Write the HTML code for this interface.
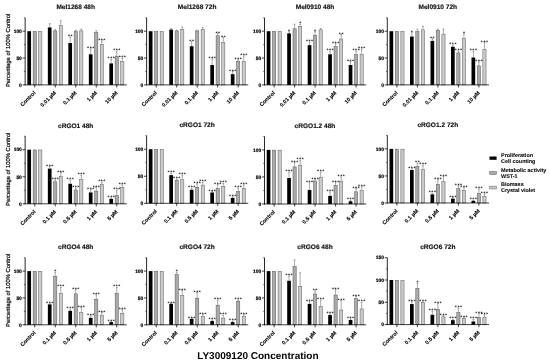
<!DOCTYPE html>
<html><head><meta charset="utf-8"><title>LY3009120 Concentration</title>
<style>
html,body{margin:0;padding:0;background:#fff;}
body{width:550px;height:363px;overflow:hidden;}
svg{display:block;font-family:"Liberation Sans",Arial,sans-serif;}
.t{font-size:6.55px;font-weight:bold;text-anchor:middle;fill:#111;stroke:#111;stroke-width:0.15px;}
.s{font-size:5.2px;font-weight:bold;text-anchor:middle;fill:#111;letter-spacing:0.55px;}
.y{font-size:4.9px;font-weight:bold;text-anchor:end;fill:#000;stroke:#000;stroke-width:0.2px;}
.x{font-size:5.4px;font-weight:bold;text-anchor:end;fill:#000;stroke:#000;stroke-width:0.12px;}
.yl{font-size:5.85px;text-anchor:middle;fill:#000;stroke:#000;stroke-width:0.2px;}
.l{font-size:5.45px;font-weight:bold;fill:#111;stroke:#111;stroke-width:0.1px;}
.xl{font-size:10px;font-weight:bold;text-anchor:middle;fill:#000;}
.a{stroke:#111;stroke-width:0.9;fill:none;}
.ax{stroke:#000;stroke-width:0.75;fill:none;}
.m{stroke:#111;stroke-width:0.6;fill:none;}
text{text-rendering:geometricPrecision;}
.e{stroke:#555;stroke-width:0.5;fill:none;}
</style></head><body>
<svg width="550" height="363" viewBox="0 0 550 363">
<rect width="550" height="363" fill="#fff"/>
<g>
<text x="75.7" y="8.9" class="t">Mel1268 48h</text>
<rect x="27.35" y="31.20" width="3.7" height="53.70" fill="#000"/>
<rect x="33.15" y="31.45" width="3.2" height="53.45" fill="#aaaaaa" stroke="#555" stroke-width="0.5"/>
<rect x="38.70" y="31.45" width="3.2" height="53.45" fill="#cacaca" stroke="#5c5c5c" stroke-width="0.5"/>
<path d="M49.70 27.44V23.68M48.80 23.68H50.60" class="e"/>
<rect x="47.85" y="27.44" width="3.7" height="57.46" fill="#000"/>
<path d="M55.25 30.66V29.59M54.35 29.59H56.15" class="e"/>
<rect x="53.65" y="30.91" width="3.2" height="53.99" fill="#aaaaaa" stroke="#555" stroke-width="0.5"/>
<path d="M60.80 25.29V20.46M59.90 20.46H61.70" class="e"/>
<rect x="59.20" y="25.54" width="3.2" height="59.36" fill="#cacaca" stroke="#5c5c5c" stroke-width="0.5"/>
<path d="M70.20 43.01V37.11M69.30 37.11H71.10" class="e"/>
<rect x="68.35" y="43.01" width="3.7" height="41.89" fill="#000"/>
<text x="70.48" y="38.31" class="s">**</text>
<path d="M75.75 31.20V30.13M74.85 30.13H76.65" class="e"/>
<rect x="74.15" y="31.45" width="3.2" height="53.45" fill="#aaaaaa" stroke="#555" stroke-width="0.5"/>
<path d="M81.30 30.66V29.05M80.40 29.05H82.20" class="e"/>
<rect x="79.70" y="30.91" width="3.2" height="53.99" fill="#cacaca" stroke="#5c5c5c" stroke-width="0.5"/>
<path d="M90.70 54.29V48.92M89.80 48.92H91.60" class="e"/>
<rect x="88.85" y="54.29" width="3.7" height="30.61" fill="#000"/>
<text x="90.98" y="50.12" class="s">***</text>
<path d="M96.25 32.27V30.66M95.35 30.66H97.15" class="e"/>
<rect x="94.65" y="32.52" width="3.2" height="52.38" fill="#aaaaaa" stroke="#555" stroke-width="0.5"/>
<path d="M101.80 44.09V40.87M100.90 40.87H102.70" class="e"/>
<rect x="100.20" y="44.34" width="3.2" height="40.56" fill="#cacaca" stroke="#5c5c5c" stroke-width="0.5"/>
<text x="102.08" y="42.07" class="s">***</text>
<path d="M111.20 63.42V59.12M110.30 59.12H112.10" class="e"/>
<rect x="109.35" y="63.42" width="3.7" height="21.48" fill="#000"/>
<text x="111.48" y="60.32" class="s">***</text>
<path d="M116.75 55.90V51.07M115.85 51.07H117.65" class="e"/>
<rect x="115.15" y="56.15" width="3.2" height="28.75" fill="#aaaaaa" stroke="#555" stroke-width="0.5"/>
<text x="117.03" y="52.27" class="s">***</text>
<path d="M122.30 61.27V58.05M121.40 58.05H123.20" class="e"/>
<rect x="120.70" y="61.52" width="3.2" height="23.38" fill="#cacaca" stroke="#5c5c5c" stroke-width="0.5"/>
<text x="122.58" y="59.25" class="s">***</text>
<path d="M25.15 17.78V85.25" class="a"/>
<path d="M24.70 84.90H126.85" class="ax"/>
<path d="M23.85 71.48H25.15" class="m"/>
<path d="M23.85 44.62H25.15" class="m"/>
<path d="M22.55 84.90H25.15" class="ax"/>
<text x="21.85" y="86.65" class="y">0</text>
<path d="M22.55 58.05H25.15" class="ax"/>
<text x="21.85" y="59.80" class="y">50</text>
<path d="M22.55 31.20H25.15" class="ax"/>
<text x="21.85" y="32.95" class="y">100</text>
<path d="M23.85 17.78H25.15" class="m"/>
<path d="M34.75 84.90V87.50" class="ax"/>
<text transform="translate(35.95 93.30) rotate(-45)" class="x">Control</text>
<path d="M55.25 84.90V87.50" class="ax"/>
<text transform="translate(56.45 93.30) rotate(-45)" class="x">0.01 µM</text>
<path d="M75.75 84.90V87.50" class="ax"/>
<text transform="translate(76.95 93.30) rotate(-45)" class="x">0.1 µM</text>
<path d="M96.25 84.90V87.50" class="ax"/>
<text transform="translate(97.45 93.30) rotate(-45)" class="x">1 µM</text>
<path d="M116.75 84.90V87.50" class="ax"/>
<text transform="translate(117.95 93.30) rotate(-45)" class="x">10 µM</text>
<text transform="translate(10.35 50.40) rotate(-90)" class="yl">Percentage of 100% Control</text>
</g>
<g>
<text x="197.1" y="8.9" class="t">Mel1268 72h</text>
<rect x="148.80" y="31.20" width="3.7" height="53.70" fill="#000"/>
<rect x="154.60" y="31.45" width="3.2" height="53.45" fill="#aaaaaa" stroke="#555" stroke-width="0.5"/>
<rect x="160.15" y="31.45" width="3.2" height="53.45" fill="#cacaca" stroke="#5c5c5c" stroke-width="0.5"/>
<path d="M171.15 29.59V28.52M170.25 28.52H172.05" class="e"/>
<rect x="169.30" y="29.59" width="3.7" height="55.31" fill="#000"/>
<path d="M176.70 30.66V30.13M175.80 30.13H177.60" class="e"/>
<rect x="175.10" y="30.91" width="3.2" height="53.99" fill="#aaaaaa" stroke="#555" stroke-width="0.5"/>
<path d="M182.25 29.05V26.90M181.35 26.90H183.15" class="e"/>
<rect x="180.65" y="29.30" width="3.2" height="55.60" fill="#cacaca" stroke="#5c5c5c" stroke-width="0.5"/>
<path d="M191.65 46.24V41.40M190.75 41.40H192.55" class="e"/>
<rect x="189.80" y="46.24" width="3.7" height="38.66" fill="#000"/>
<text x="191.93" y="42.60" class="s">**</text>
<path d="M197.20 30.66V30.13M196.30 30.13H198.10" class="e"/>
<rect x="195.60" y="30.91" width="3.2" height="53.99" fill="#aaaaaa" stroke="#555" stroke-width="0.5"/>
<path d="M202.75 29.05V27.44M201.85 27.44H203.65" class="e"/>
<rect x="201.15" y="29.30" width="3.2" height="55.60" fill="#cacaca" stroke="#5c5c5c" stroke-width="0.5"/>
<path d="M212.15 65.03V58.59M211.25 58.59H213.05" class="e"/>
<rect x="210.30" y="65.03" width="3.7" height="19.87" fill="#000"/>
<text x="212.43" y="59.79" class="s">***</text>
<path d="M217.70 35.50V33.35M216.80 33.35H218.60" class="e"/>
<rect x="216.10" y="35.75" width="3.2" height="49.15" fill="#aaaaaa" stroke="#555" stroke-width="0.5"/>
<text x="217.98" y="34.55" class="s">**</text>
<path d="M223.25 42.48V37.64M222.35 37.64H224.15" class="e"/>
<rect x="221.65" y="42.73" width="3.2" height="42.17" fill="#cacaca" stroke="#5c5c5c" stroke-width="0.5"/>
<text x="223.53" y="38.84" class="s">**</text>
<path d="M232.65 74.16V71.48M231.75 71.48H233.55" class="e"/>
<rect x="230.80" y="74.16" width="3.7" height="10.74" fill="#000"/>
<text x="232.93" y="72.68" class="s">***</text>
<path d="M238.20 61.27V59.66M237.30 59.66H239.10" class="e"/>
<rect x="236.60" y="61.52" width="3.2" height="23.38" fill="#aaaaaa" stroke="#555" stroke-width="0.5"/>
<text x="238.48" y="60.86" class="s">***</text>
<path d="M243.75 61.27V55.90M242.85 55.90H244.65" class="e"/>
<rect x="242.15" y="61.52" width="3.2" height="23.38" fill="#cacaca" stroke="#5c5c5c" stroke-width="0.5"/>
<text x="244.03" y="57.10" class="s">***</text>
<path d="M146.60 17.78V85.25" class="a"/>
<path d="M146.15 84.90H248.30" class="ax"/>
<path d="M145.30 71.48H146.60" class="m"/>
<path d="M145.30 44.62H146.60" class="m"/>
<path d="M144.00 84.90H146.60" class="ax"/>
<text x="143.30" y="86.65" class="y">0</text>
<path d="M144.00 58.05H146.60" class="ax"/>
<text x="143.30" y="59.80" class="y">50</text>
<path d="M144.00 31.20H146.60" class="ax"/>
<text x="143.30" y="32.95" class="y">100</text>
<path d="M145.30 17.78H146.60" class="m"/>
<path d="M156.20 84.90V87.50" class="ax"/>
<text transform="translate(157.40 93.30) rotate(-45)" class="x">Control</text>
<path d="M176.70 84.90V87.50" class="ax"/>
<text transform="translate(177.90 93.30) rotate(-45)" class="x">0.01 µM</text>
<path d="M197.20 84.90V87.50" class="ax"/>
<text transform="translate(198.40 93.30) rotate(-45)" class="x">0.1 µM</text>
<path d="M217.70 84.90V87.50" class="ax"/>
<text transform="translate(218.90 93.30) rotate(-45)" class="x">1 µM</text>
<path d="M238.20 84.90V87.50" class="ax"/>
<text transform="translate(239.40 93.30) rotate(-45)" class="x">10 µM</text>
</g>
<g>
<text x="315.0" y="8.9" class="t">Mel0910 48h</text>
<rect x="266.70" y="31.20" width="3.7" height="53.70" fill="#000"/>
<rect x="272.50" y="31.45" width="3.2" height="53.45" fill="#aaaaaa" stroke="#555" stroke-width="0.5"/>
<rect x="278.05" y="31.45" width="3.2" height="53.45" fill="#cacaca" stroke="#5c5c5c" stroke-width="0.5"/>
<path d="M289.05 33.35V31.74M288.15 31.74H289.95" class="e"/>
<rect x="287.20" y="33.35" width="3.7" height="51.55" fill="#000"/>
<text x="289.33" y="32.94" class="s">*</text>
<path d="M294.60 28.52V24.22M293.70 24.22H295.50" class="e"/>
<rect x="293.00" y="28.77" width="3.2" height="56.14" fill="#aaaaaa" stroke="#555" stroke-width="0.5"/>
<path d="M300.15 26.37V24.22M299.25 24.22H301.05" class="e"/>
<rect x="298.55" y="26.62" width="3.2" height="58.28" fill="#cacaca" stroke="#5c5c5c" stroke-width="0.5"/>
<text x="300.43" y="25.42" class="s">*</text>
<path d="M309.55 45.16V41.94M308.65 41.94H310.45" class="e"/>
<rect x="307.70" y="45.16" width="3.7" height="39.74" fill="#000"/>
<text x="309.83" y="43.14" class="s">***</text>
<path d="M315.10 34.96V31.74M314.20 31.74H316.00" class="e"/>
<rect x="313.50" y="35.21" width="3.2" height="49.69" fill="#aaaaaa" stroke="#555" stroke-width="0.5"/>
<text x="315.38" y="32.94" class="s">*</text>
<path d="M320.65 29.59V28.52M319.75 28.52H321.55" class="e"/>
<rect x="319.05" y="29.84" width="3.2" height="55.06" fill="#cacaca" stroke="#5c5c5c" stroke-width="0.5"/>
<path d="M330.05 54.29V51.07M329.15 51.07H330.95" class="e"/>
<rect x="328.20" y="54.29" width="3.7" height="30.61" fill="#000"/>
<text x="330.33" y="52.27" class="s">***</text>
<path d="M335.60 46.24V43.55M334.70 43.55H336.50" class="e"/>
<rect x="334.00" y="46.49" width="3.2" height="38.41" fill="#aaaaaa" stroke="#555" stroke-width="0.5"/>
<text x="335.88" y="44.75" class="s">***</text>
<path d="M341.15 38.72V34.42M340.25 34.42H342.05" class="e"/>
<rect x="339.55" y="38.97" width="3.2" height="45.93" fill="#cacaca" stroke="#5c5c5c" stroke-width="0.5"/>
<text x="341.43" y="35.62" class="s">**</text>
<path d="M350.55 65.03V61.81M349.65 61.81H351.45" class="e"/>
<rect x="348.70" y="65.03" width="3.7" height="19.87" fill="#000"/>
<text x="350.83" y="63.01" class="s">***</text>
<path d="M356.10 54.29V51.07M355.20 51.07H357.00" class="e"/>
<rect x="354.50" y="54.54" width="3.2" height="30.36" fill="#aaaaaa" stroke="#555" stroke-width="0.5"/>
<text x="356.38" y="52.27" class="s">***</text>
<path d="M361.65 54.29V48.92M360.75 48.92H362.55" class="e"/>
<rect x="360.05" y="54.54" width="3.2" height="30.36" fill="#cacaca" stroke="#5c5c5c" stroke-width="0.5"/>
<text x="361.93" y="50.12" class="s">***</text>
<path d="M264.50 17.78V85.25" class="a"/>
<path d="M264.05 84.90H366.20" class="ax"/>
<path d="M263.20 71.48H264.50" class="m"/>
<path d="M263.20 44.62H264.50" class="m"/>
<path d="M261.90 84.90H264.50" class="ax"/>
<text x="261.20" y="86.65" class="y">0</text>
<path d="M261.90 58.05H264.50" class="ax"/>
<text x="261.20" y="59.80" class="y">50</text>
<path d="M261.90 31.20H264.50" class="ax"/>
<text x="261.20" y="32.95" class="y">100</text>
<path d="M263.20 17.78H264.50" class="m"/>
<path d="M274.10 84.90V87.50" class="ax"/>
<text transform="translate(275.30 93.30) rotate(-45)" class="x">Control</text>
<path d="M294.60 84.90V87.50" class="ax"/>
<text transform="translate(295.80 93.30) rotate(-45)" class="x">0.01 µM</text>
<path d="M315.10 84.90V87.50" class="ax"/>
<text transform="translate(316.30 93.30) rotate(-45)" class="x">0.1 µM</text>
<path d="M335.60 84.90V87.50" class="ax"/>
<text transform="translate(336.80 93.30) rotate(-45)" class="x">1 µM</text>
<path d="M356.10 84.90V87.50" class="ax"/>
<text transform="translate(357.30 93.30) rotate(-45)" class="x">10 µM</text>
</g>
<g>
<text x="437.8" y="8.9" class="t">Mel0910 72h</text>
<rect x="389.50" y="31.20" width="3.7" height="53.70" fill="#000"/>
<rect x="395.30" y="31.45" width="3.2" height="53.45" fill="#aaaaaa" stroke="#555" stroke-width="0.5"/>
<rect x="400.85" y="31.45" width="3.2" height="53.45" fill="#cacaca" stroke="#5c5c5c" stroke-width="0.5"/>
<path d="M411.85 36.57V32.81M410.95 32.81H412.75" class="e"/>
<rect x="410.00" y="36.57" width="3.7" height="48.33" fill="#000"/>
<text x="412.13" y="34.01" class="s">*</text>
<path d="M417.40 31.20V29.05M416.50 29.05H418.30" class="e"/>
<rect x="415.80" y="31.45" width="3.2" height="53.45" fill="#aaaaaa" stroke="#555" stroke-width="0.5"/>
<path d="M422.95 29.59V26.37M422.05 26.37H423.85" class="e"/>
<rect x="421.35" y="29.84" width="3.2" height="55.06" fill="#cacaca" stroke="#5c5c5c" stroke-width="0.5"/>
<path d="M432.35 40.87V38.72M431.45 38.72H433.25" class="e"/>
<rect x="430.50" y="40.87" width="3.7" height="44.03" fill="#000"/>
<text x="432.63" y="39.92" class="s">**</text>
<path d="M437.90 30.13V29.05M437.00 29.05H438.80" class="e"/>
<rect x="436.30" y="30.38" width="3.2" height="54.52" fill="#aaaaaa" stroke="#555" stroke-width="0.5"/>
<path d="M443.45 33.89V29.05M442.55 29.05H444.35" class="e"/>
<rect x="441.85" y="34.14" width="3.2" height="50.77" fill="#cacaca" stroke="#5c5c5c" stroke-width="0.5"/>
<path d="M452.85 46.77V45.16M451.95 45.16H453.75" class="e"/>
<rect x="451.00" y="46.77" width="3.7" height="38.13" fill="#000"/>
<text x="453.13" y="46.36" class="s">***</text>
<path d="M458.40 52.68V51.07M457.50 51.07H459.30" class="e"/>
<rect x="456.80" y="52.93" width="3.2" height="31.97" fill="#aaaaaa" stroke="#555" stroke-width="0.5"/>
<text x="458.68" y="52.27" class="s">***</text>
<path d="M463.95 38.18V33.89M463.05 33.89H464.85" class="e"/>
<rect x="462.35" y="38.43" width="3.2" height="46.47" fill="#cacaca" stroke="#5c5c5c" stroke-width="0.5"/>
<text x="464.23" y="35.09" class="s">*</text>
<path d="M473.35 57.51V51.07M472.45 51.07H474.25" class="e"/>
<rect x="471.50" y="57.51" width="3.7" height="27.39" fill="#000"/>
<text x="473.63" y="52.27" class="s">***</text>
<path d="M478.90 65.57V61.81M478.00 61.81H479.80" class="e"/>
<rect x="477.30" y="65.82" width="3.2" height="19.08" fill="#aaaaaa" stroke="#555" stroke-width="0.5"/>
<text x="479.18" y="63.01" class="s">***</text>
<path d="M484.45 49.46V42.48M483.55 42.48H485.35" class="e"/>
<rect x="482.85" y="49.71" width="3.2" height="35.19" fill="#cacaca" stroke="#5c5c5c" stroke-width="0.5"/>
<text x="484.73" y="43.68" class="s">***</text>
<path d="M387.30 17.78V85.25" class="a"/>
<path d="M386.85 84.90H489.00" class="ax"/>
<path d="M386.00 71.48H387.30" class="m"/>
<path d="M386.00 44.62H387.30" class="m"/>
<path d="M384.70 84.90H387.30" class="ax"/>
<text x="384.00" y="86.65" class="y">0</text>
<path d="M384.70 58.05H387.30" class="ax"/>
<text x="384.00" y="59.80" class="y">50</text>
<path d="M384.70 31.20H387.30" class="ax"/>
<text x="384.00" y="32.95" class="y">100</text>
<path d="M386.00 17.78H387.30" class="m"/>
<path d="M396.90 84.90V87.50" class="ax"/>
<text transform="translate(398.10 93.30) rotate(-45)" class="x">Control</text>
<path d="M417.40 84.90V87.50" class="ax"/>
<text transform="translate(418.60 93.30) rotate(-45)" class="x">0.01 µM</text>
<path d="M437.90 84.90V87.50" class="ax"/>
<text transform="translate(439.10 93.30) rotate(-45)" class="x">0.1 µM</text>
<path d="M458.40 84.90V87.50" class="ax"/>
<text transform="translate(459.60 93.30) rotate(-45)" class="x">1 µM</text>
<path d="M478.90 84.90V87.50" class="ax"/>
<text transform="translate(480.10 93.30) rotate(-45)" class="x">10 µM</text>
</g>
<g>
<text x="75.7" y="127.8" class="t">cRGO1 48h</text>
<rect x="27.35" y="149.70" width="3.7" height="54.10" fill="#000"/>
<rect x="33.15" y="149.95" width="3.2" height="53.85" fill="#aaaaaa" stroke="#555" stroke-width="0.5"/>
<rect x="38.70" y="149.95" width="3.2" height="53.85" fill="#cacaca" stroke="#5c5c5c" stroke-width="0.5"/>
<path d="M49.70 168.64V166.47M48.80 166.47H50.60" class="e"/>
<rect x="47.85" y="168.64" width="3.7" height="35.16" fill="#000"/>
<text x="49.98" y="167.67" class="s">***</text>
<path d="M55.25 181.62V180.00M54.35 180.00H56.15" class="e"/>
<rect x="53.65" y="181.87" width="3.2" height="21.93" fill="#aaaaaa" stroke="#555" stroke-width="0.5"/>
<text x="55.53" y="181.20" class="s">***</text>
<path d="M60.80 176.21V172.42M59.90 172.42H61.70" class="e"/>
<rect x="59.20" y="176.46" width="3.2" height="27.34" fill="#cacaca" stroke="#5c5c5c" stroke-width="0.5"/>
<text x="61.08" y="173.62" class="s">***</text>
<path d="M70.20 183.78V180.00M69.30 180.00H71.10" class="e"/>
<rect x="68.35" y="183.78" width="3.7" height="20.02" fill="#000"/>
<text x="70.48" y="181.20" class="s">***</text>
<path d="M75.75 189.73V188.11M74.85 188.11H76.65" class="e"/>
<rect x="74.15" y="189.98" width="3.2" height="13.82" fill="#aaaaaa" stroke="#555" stroke-width="0.5"/>
<text x="76.03" y="189.31" class="s">***</text>
<path d="M81.30 179.46V175.13M80.40 175.13H82.20" class="e"/>
<rect x="79.70" y="179.71" width="3.2" height="24.10" fill="#cacaca" stroke="#5c5c5c" stroke-width="0.5"/>
<text x="81.58" y="176.33" class="s">***</text>
<path d="M90.70 192.44V189.73M89.80 189.73H91.60" class="e"/>
<rect x="88.85" y="192.44" width="3.7" height="11.36" fill="#000"/>
<text x="90.98" y="190.93" class="s">***</text>
<path d="M96.25 190.82V187.57M95.35 187.57H97.15" class="e"/>
<rect x="94.65" y="191.07" width="3.2" height="12.73" fill="#aaaaaa" stroke="#555" stroke-width="0.5"/>
<text x="96.53" y="188.77" class="s">***</text>
<path d="M101.80 184.32V182.16M100.90 182.16H102.70" class="e"/>
<rect x="100.20" y="184.57" width="3.2" height="19.23" fill="#cacaca" stroke="#5c5c5c" stroke-width="0.5"/>
<text x="102.08" y="183.36" class="s">***</text>
<path d="M111.20 198.93V197.85M110.30 197.85H112.10" class="e"/>
<rect x="109.35" y="198.93" width="3.7" height="4.87" fill="#000"/>
<text x="111.48" y="199.05" class="s">***</text>
<path d="M116.75 195.14V190.28M115.85 190.28H117.65" class="e"/>
<rect x="115.15" y="195.39" width="3.2" height="8.41" fill="#aaaaaa" stroke="#555" stroke-width="0.5"/>
<text x="117.03" y="191.47" class="s">***</text>
<path d="M122.30 187.03V184.87M121.40 184.87H123.20" class="e"/>
<rect x="120.70" y="187.28" width="3.2" height="16.52" fill="#cacaca" stroke="#5c5c5c" stroke-width="0.5"/>
<text x="122.58" y="186.06" class="s">***</text>
<path d="M25.15 136.18V204.15" class="a"/>
<path d="M24.70 203.80H126.85" class="ax"/>
<path d="M23.85 190.28H25.15" class="m"/>
<path d="M23.85 163.23H25.15" class="m"/>
<path d="M22.55 203.80H25.15" class="ax"/>
<text x="21.85" y="205.55" class="y">0</text>
<path d="M22.55 176.75H25.15" class="ax"/>
<text x="21.85" y="178.50" class="y">50</text>
<path d="M22.55 149.70H25.15" class="ax"/>
<text x="21.85" y="151.45" class="y">100</text>
<path d="M23.85 136.18H25.15" class="m"/>
<path d="M34.75 203.80V206.40" class="ax"/>
<text transform="translate(35.95 212.20) rotate(-45)" class="x">Control</text>
<path d="M55.25 203.80V206.40" class="ax"/>
<text transform="translate(56.45 212.20) rotate(-45)" class="x">0.1 µM</text>
<path d="M75.75 203.80V206.40" class="ax"/>
<text transform="translate(76.95 212.20) rotate(-45)" class="x">0.5 µM</text>
<path d="M96.25 203.80V206.40" class="ax"/>
<text transform="translate(97.45 212.20) rotate(-45)" class="x">1 µM</text>
<path d="M116.75 203.80V206.40" class="ax"/>
<text transform="translate(117.95 212.20) rotate(-45)" class="x">5 µM</text>
<text transform="translate(10.35 169.30) rotate(-90)" class="yl">Percentage of 100% Control</text>
</g>
<g>
<text x="197.1" y="127.3" class="t">cRGO1 72h</text>
<rect x="148.80" y="149.20" width="3.7" height="54.10" fill="#000"/>
<rect x="154.60" y="149.45" width="3.2" height="53.85" fill="#aaaaaa" stroke="#555" stroke-width="0.5"/>
<rect x="160.15" y="149.45" width="3.2" height="53.85" fill="#cacaca" stroke="#5c5c5c" stroke-width="0.5"/>
<path d="M171.15 175.17V173.00M170.25 173.00H172.05" class="e"/>
<rect x="169.30" y="175.17" width="3.7" height="28.13" fill="#000"/>
<text x="171.43" y="174.20" class="s">***</text>
<path d="M176.70 180.04V178.96M175.80 178.96H177.60" class="e"/>
<rect x="175.10" y="180.29" width="3.2" height="23.01" fill="#aaaaaa" stroke="#555" stroke-width="0.5"/>
<text x="176.98" y="180.16" class="s">***</text>
<path d="M182.25 179.50V175.17M181.35 175.17H183.15" class="e"/>
<rect x="180.65" y="179.75" width="3.2" height="23.55" fill="#cacaca" stroke="#5c5c5c" stroke-width="0.5"/>
<text x="182.53" y="176.37" class="s">***</text>
<path d="M191.65 189.78V188.15M190.75 188.15H192.55" class="e"/>
<rect x="189.80" y="189.78" width="3.7" height="13.53" fill="#000"/>
<text x="191.93" y="189.35" class="s">***</text>
<path d="M197.20 187.07V183.82M196.30 183.82H198.10" class="e"/>
<rect x="195.60" y="187.32" width="3.2" height="15.98" fill="#aaaaaa" stroke="#555" stroke-width="0.5"/>
<text x="197.48" y="185.02" class="s">***</text>
<path d="M202.75 184.91V182.20M201.85 182.20H203.65" class="e"/>
<rect x="201.15" y="185.16" width="3.2" height="18.14" fill="#cacaca" stroke="#5c5c5c" stroke-width="0.5"/>
<text x="203.03" y="183.40" class="s">***</text>
<path d="M212.15 192.48V191.40M211.25 191.40H213.05" class="e"/>
<rect x="210.30" y="192.48" width="3.7" height="10.82" fill="#000"/>
<text x="212.43" y="192.60" class="s">***</text>
<path d="M217.70 188.15V184.37M216.80 184.37H218.60" class="e"/>
<rect x="216.10" y="188.40" width="3.2" height="14.90" fill="#aaaaaa" stroke="#555" stroke-width="0.5"/>
<text x="217.98" y="185.56" class="s">***</text>
<path d="M223.25 185.99V183.28M222.35 183.28H224.15" class="e"/>
<rect x="221.65" y="186.24" width="3.2" height="17.06" fill="#cacaca" stroke="#5c5c5c" stroke-width="0.5"/>
<text x="223.53" y="184.48" class="s">***</text>
<path d="M232.65 197.89V196.81M231.75 196.81H233.55" class="e"/>
<rect x="230.80" y="197.89" width="3.7" height="5.41" fill="#000"/>
<text x="232.93" y="198.01" class="s">***</text>
<path d="M238.20 191.40V188.15M237.30 188.15H239.10" class="e"/>
<rect x="236.60" y="191.65" width="3.2" height="11.65" fill="#aaaaaa" stroke="#555" stroke-width="0.5"/>
<text x="238.48" y="189.35" class="s">***</text>
<path d="M243.75 188.15V184.91M242.85 184.91H244.65" class="e"/>
<rect x="242.15" y="188.40" width="3.2" height="14.90" fill="#cacaca" stroke="#5c5c5c" stroke-width="0.5"/>
<text x="244.03" y="186.11" class="s">***</text>
<path d="M146.60 135.68V203.65" class="a"/>
<path d="M146.15 203.30H248.30" class="ax"/>
<path d="M145.30 189.78H146.60" class="m"/>
<path d="M145.30 162.73H146.60" class="m"/>
<path d="M144.00 203.30H146.60" class="ax"/>
<text x="143.30" y="205.05" class="y">0</text>
<path d="M144.00 176.25H146.60" class="ax"/>
<text x="143.30" y="178.00" class="y">50</text>
<path d="M144.00 149.20H146.60" class="ax"/>
<text x="143.30" y="150.95" class="y">100</text>
<path d="M145.30 135.68H146.60" class="m"/>
<path d="M156.20 203.30V205.90" class="ax"/>
<text transform="translate(157.40 211.70) rotate(-45)" class="x">Control</text>
<path d="M176.70 203.30V205.90" class="ax"/>
<text transform="translate(177.90 211.70) rotate(-45)" class="x">0.1 µM</text>
<path d="M197.20 203.30V205.90" class="ax"/>
<text transform="translate(198.40 211.70) rotate(-45)" class="x">0.5 µM</text>
<path d="M217.70 203.30V205.90" class="ax"/>
<text transform="translate(218.90 211.70) rotate(-45)" class="x">1 µM</text>
<path d="M238.20 203.30V205.90" class="ax"/>
<text transform="translate(239.40 211.70) rotate(-45)" class="x">5 µM</text>
</g>
<g>
<text x="315.0" y="128.0" class="t">cRGO1.2 48h</text>
<rect x="266.70" y="149.90" width="3.7" height="54.10" fill="#000"/>
<rect x="272.50" y="150.15" width="3.2" height="53.85" fill="#aaaaaa" stroke="#555" stroke-width="0.5"/>
<rect x="278.05" y="150.15" width="3.2" height="53.85" fill="#cacaca" stroke="#5c5c5c" stroke-width="0.5"/>
<path d="M289.05 178.03V172.08M288.15 172.08H289.95" class="e"/>
<rect x="287.20" y="178.03" width="3.7" height="25.97" fill="#000"/>
<text x="289.33" y="173.28" class="s">***</text>
<path d="M294.60 166.67V162.34M293.70 162.34H295.50" class="e"/>
<rect x="293.00" y="166.92" width="3.2" height="37.08" fill="#aaaaaa" stroke="#555" stroke-width="0.5"/>
<text x="294.88" y="163.54" class="s">***</text>
<path d="M300.15 165.05V160.18M299.25 160.18H301.05" class="e"/>
<rect x="298.55" y="165.30" width="3.2" height="38.70" fill="#cacaca" stroke="#5c5c5c" stroke-width="0.5"/>
<text x="300.43" y="161.38" class="s">***</text>
<path d="M309.55 189.93V182.90M308.65 182.90H310.45" class="e"/>
<rect x="307.70" y="189.93" width="3.7" height="14.07" fill="#000"/>
<text x="309.83" y="184.10" class="s">***</text>
<path d="M315.10 180.74V179.66M314.20 179.66H316.00" class="e"/>
<rect x="313.50" y="180.99" width="3.2" height="23.01" fill="#aaaaaa" stroke="#555" stroke-width="0.5"/>
<text x="315.38" y="180.85" class="s">***</text>
<path d="M320.65 176.95V172.08M319.75 172.08H321.55" class="e"/>
<rect x="319.05" y="177.20" width="3.2" height="26.80" fill="#cacaca" stroke="#5c5c5c" stroke-width="0.5"/>
<text x="320.93" y="173.28" class="s">***</text>
<path d="M330.05 195.88V192.10M329.15 192.10H330.95" class="e"/>
<rect x="328.20" y="195.88" width="3.7" height="8.12" fill="#000"/>
<text x="330.33" y="193.30" class="s">***</text>
<path d="M335.60 185.06V182.36M334.70 182.36H336.50" class="e"/>
<rect x="334.00" y="185.31" width="3.2" height="18.69" fill="#aaaaaa" stroke="#555" stroke-width="0.5"/>
<text x="335.88" y="183.56" class="s">***</text>
<path d="M341.15 181.28V176.95M340.25 176.95H342.05" class="e"/>
<rect x="339.55" y="181.53" width="3.2" height="22.47" fill="#cacaca" stroke="#5c5c5c" stroke-width="0.5"/>
<text x="341.43" y="178.15" class="s">***</text>
<path d="M350.55 201.29V200.21M349.65 200.21H351.45" class="e"/>
<rect x="348.70" y="201.29" width="3.7" height="2.71" fill="#000"/>
<text x="350.83" y="201.41" class="s">***</text>
<path d="M356.10 191.56V188.31M355.20 188.31H357.00" class="e"/>
<rect x="354.50" y="191.81" width="3.2" height="12.19" fill="#aaaaaa" stroke="#555" stroke-width="0.5"/>
<text x="356.38" y="189.51" class="s">***</text>
<path d="M361.65 190.47V186.69M360.75 186.69H362.55" class="e"/>
<rect x="360.05" y="190.72" width="3.2" height="13.28" fill="#cacaca" stroke="#5c5c5c" stroke-width="0.5"/>
<text x="361.93" y="187.89" class="s">***</text>
<path d="M264.50 136.38V204.35" class="a"/>
<path d="M264.05 204.00H366.20" class="ax"/>
<path d="M263.20 190.47H264.50" class="m"/>
<path d="M263.20 163.43H264.50" class="m"/>
<path d="M261.90 204.00H264.50" class="ax"/>
<text x="261.20" y="205.75" class="y">0</text>
<path d="M261.90 176.95H264.50" class="ax"/>
<text x="261.20" y="178.70" class="y">50</text>
<path d="M261.90 149.90H264.50" class="ax"/>
<text x="261.20" y="151.65" class="y">100</text>
<path d="M263.20 136.38H264.50" class="m"/>
<path d="M274.10 204.00V206.60" class="ax"/>
<text transform="translate(275.30 212.40) rotate(-45)" class="x">Control</text>
<path d="M294.60 204.00V206.60" class="ax"/>
<text transform="translate(295.80 212.40) rotate(-45)" class="x">0.1 µM</text>
<path d="M315.10 204.00V206.60" class="ax"/>
<text transform="translate(316.30 212.40) rotate(-45)" class="x">0.5 µM</text>
<path d="M335.60 204.00V206.60" class="ax"/>
<text transform="translate(336.80 212.40) rotate(-45)" class="x">1 µM</text>
<path d="M356.10 204.00V206.60" class="ax"/>
<text transform="translate(357.30 212.40) rotate(-45)" class="x">5 µM</text>
</g>
<g>
<text x="437.8" y="127.0" class="t">cRGO1.2 72h</text>
<rect x="389.50" y="148.90" width="3.7" height="54.10" fill="#000"/>
<rect x="395.30" y="149.15" width="3.2" height="53.85" fill="#aaaaaa" stroke="#555" stroke-width="0.5"/>
<rect x="400.85" y="149.15" width="3.2" height="53.85" fill="#cacaca" stroke="#5c5c5c" stroke-width="0.5"/>
<path d="M411.85 170.00V168.38M410.95 168.38H412.75" class="e"/>
<rect x="410.00" y="170.00" width="3.7" height="33.00" fill="#000"/>
<text x="412.13" y="169.58" class="s">***</text>
<path d="M417.40 166.21V162.97M416.50 162.97H418.30" class="e"/>
<rect x="415.80" y="166.46" width="3.2" height="36.54" fill="#aaaaaa" stroke="#555" stroke-width="0.5"/>
<text x="417.68" y="164.17" class="s">**</text>
<path d="M422.95 169.46V165.13M422.05 165.13H423.85" class="e"/>
<rect x="421.35" y="169.71" width="3.2" height="33.29" fill="#cacaca" stroke="#5c5c5c" stroke-width="0.5"/>
<text x="423.23" y="166.33" class="s">***</text>
<path d="M432.35 194.34V193.26M431.45 193.26H433.25" class="e"/>
<rect x="430.50" y="194.34" width="3.7" height="8.66" fill="#000"/>
<text x="432.63" y="194.46" class="s">***</text>
<path d="M437.90 184.06V179.74M437.00 179.74H438.80" class="e"/>
<rect x="436.30" y="184.31" width="3.2" height="18.69" fill="#aaaaaa" stroke="#555" stroke-width="0.5"/>
<text x="438.18" y="180.94" class="s">***</text>
<path d="M443.45 181.36V176.49M442.55 176.49H444.35" class="e"/>
<rect x="441.85" y="181.61" width="3.2" height="21.39" fill="#cacaca" stroke="#5c5c5c" stroke-width="0.5"/>
<text x="443.73" y="177.69" class="s">***</text>
<path d="M452.85 198.67V197.59M451.95 197.59H453.75" class="e"/>
<rect x="451.00" y="198.67" width="3.7" height="4.33" fill="#000"/>
<text x="453.13" y="198.79" class="s">***</text>
<path d="M458.40 188.39V185.69M457.50 185.69H459.30" class="e"/>
<rect x="456.80" y="188.64" width="3.2" height="14.36" fill="#aaaaaa" stroke="#555" stroke-width="0.5"/>
<text x="458.68" y="186.89" class="s">***</text>
<path d="M463.95 190.02V187.31M463.05 187.31H464.85" class="e"/>
<rect x="462.35" y="190.27" width="3.2" height="12.73" fill="#cacaca" stroke="#5c5c5c" stroke-width="0.5"/>
<text x="464.23" y="188.51" class="s">***</text>
<path d="M473.35 200.84V200.29M472.45 200.29H474.25" class="e"/>
<rect x="471.50" y="200.84" width="3.7" height="2.16" fill="#000"/>
<text x="473.63" y="201.49" class="s">***</text>
<path d="M478.90 193.26V188.93M478.00 188.93H479.80" class="e"/>
<rect x="477.30" y="193.51" width="3.2" height="9.49" fill="#aaaaaa" stroke="#555" stroke-width="0.5"/>
<text x="479.18" y="190.13" class="s">***</text>
<path d="M484.45 195.97V193.80M483.55 193.80H485.35" class="e"/>
<rect x="482.85" y="196.22" width="3.2" height="6.78" fill="#cacaca" stroke="#5c5c5c" stroke-width="0.5"/>
<text x="484.73" y="195.00" class="s">***</text>
<path d="M387.30 135.38V203.35" class="a"/>
<path d="M386.85 203.00H489.00" class="ax"/>
<path d="M386.00 189.47H387.30" class="m"/>
<path d="M386.00 162.43H387.30" class="m"/>
<path d="M384.70 203.00H387.30" class="ax"/>
<text x="384.00" y="204.75" class="y">0</text>
<path d="M384.70 175.95H387.30" class="ax"/>
<text x="384.00" y="177.70" class="y">50</text>
<path d="M384.70 148.90H387.30" class="ax"/>
<text x="384.00" y="150.65" class="y">100</text>
<path d="M386.00 135.38H387.30" class="m"/>
<path d="M396.90 203.00V205.60" class="ax"/>
<text transform="translate(398.10 211.40) rotate(-45)" class="x">Control</text>
<path d="M417.40 203.00V205.60" class="ax"/>
<text transform="translate(418.60 211.40) rotate(-45)" class="x">0.1 µM</text>
<path d="M437.90 203.00V205.60" class="ax"/>
<text transform="translate(439.10 211.40) rotate(-45)" class="x">0.5 µM</text>
<path d="M458.40 203.00V205.60" class="ax"/>
<text transform="translate(459.60 211.40) rotate(-45)" class="x">1 µM</text>
<path d="M478.90 203.00V205.60" class="ax"/>
<text transform="translate(480.10 211.40) rotate(-45)" class="x">5 µM</text>
</g>
<g>
<text x="75.7" y="248.8" class="t">cRGO4 48h</text>
<rect x="27.35" y="271.10" width="3.7" height="53.70" fill="#000"/>
<rect x="33.15" y="271.35" width="3.2" height="53.45" fill="#aaaaaa" stroke="#555" stroke-width="0.5"/>
<rect x="38.70" y="271.35" width="3.2" height="53.45" fill="#cacaca" stroke="#5c5c5c" stroke-width="0.5"/>
<path d="M49.70 304.39V303.86M48.80 303.86H50.60" class="e"/>
<rect x="47.85" y="304.39" width="3.7" height="20.41" fill="#000"/>
<text x="49.98" y="305.06" class="s">***</text>
<path d="M55.25 275.93V272.17M54.35 272.17H56.15" class="e"/>
<rect x="53.65" y="276.18" width="3.2" height="48.62" fill="#aaaaaa" stroke="#555" stroke-width="0.5"/>
<text x="55.53" y="273.37" class="s">*</text>
<path d="M60.80 293.12V287.21M59.90 287.21H61.70" class="e"/>
<rect x="59.20" y="293.37" width="3.2" height="31.43" fill="#cacaca" stroke="#5c5c5c" stroke-width="0.5"/>
<text x="61.08" y="288.41" class="s">***</text>
<path d="M70.20 310.84V309.23M69.30 309.23H71.10" class="e"/>
<rect x="68.35" y="310.84" width="3.7" height="13.96" fill="#000"/>
<text x="70.48" y="310.43" class="s">***</text>
<path d="M75.75 293.65V289.36M74.85 289.36H76.65" class="e"/>
<rect x="74.15" y="293.90" width="3.2" height="30.90" fill="#aaaaaa" stroke="#555" stroke-width="0.5"/>
<text x="76.03" y="290.56" class="s">***</text>
<path d="M81.30 312.45V307.62M80.40 307.62H82.20" class="e"/>
<rect x="79.70" y="312.70" width="3.2" height="12.10" fill="#cacaca" stroke="#5c5c5c" stroke-width="0.5"/>
<text x="81.58" y="308.82" class="s">***</text>
<path d="M90.70 317.82V315.67M89.80 315.67H91.60" class="e"/>
<rect x="88.85" y="317.82" width="3.7" height="6.98" fill="#000"/>
<text x="90.98" y="316.87" class="s">***</text>
<path d="M96.25 299.02V294.73M95.35 294.73H97.15" class="e"/>
<rect x="94.65" y="299.27" width="3.2" height="25.53" fill="#aaaaaa" stroke="#555" stroke-width="0.5"/>
<text x="96.53" y="295.93" class="s">***</text>
<path d="M101.80 315.13V312.45M100.90 312.45H102.70" class="e"/>
<rect x="100.20" y="315.38" width="3.2" height="9.42" fill="#cacaca" stroke="#5c5c5c" stroke-width="0.5"/>
<text x="102.08" y="313.65" class="s">***</text>
<path d="M111.20 322.12V321.58M110.30 321.58H112.10" class="e"/>
<rect x="109.35" y="322.12" width="3.7" height="2.69" fill="#000"/>
<text x="111.48" y="322.78" class="s">***</text>
<path d="M116.75 293.12V287.21M115.85 287.21H117.65" class="e"/>
<rect x="115.15" y="293.37" width="3.2" height="31.43" fill="#aaaaaa" stroke="#555" stroke-width="0.5"/>
<text x="117.03" y="288.41" class="s">***</text>
<path d="M122.30 312.99V309.76M121.40 309.76H123.20" class="e"/>
<rect x="120.70" y="313.24" width="3.2" height="11.56" fill="#cacaca" stroke="#5c5c5c" stroke-width="0.5"/>
<text x="122.58" y="310.96" class="s">***</text>
<path d="M25.15 257.68V325.15" class="a"/>
<path d="M24.70 324.80H126.85" class="ax"/>
<path d="M23.85 311.38H25.15" class="m"/>
<path d="M23.85 284.52H25.15" class="m"/>
<path d="M22.55 324.80H25.15" class="ax"/>
<text x="21.85" y="326.55" class="y">0</text>
<path d="M22.55 297.95H25.15" class="ax"/>
<text x="21.85" y="299.70" class="y">50</text>
<path d="M22.55 271.10H25.15" class="ax"/>
<text x="21.85" y="272.85" class="y">100</text>
<path d="M23.85 257.68H25.15" class="m"/>
<path d="M34.75 324.80V327.40" class="ax"/>
<text transform="translate(35.95 333.20) rotate(-45)" class="x">Control</text>
<path d="M55.25 324.80V327.40" class="ax"/>
<text transform="translate(56.45 333.20) rotate(-45)" class="x">0.1 µM</text>
<path d="M75.75 324.80V327.40" class="ax"/>
<text transform="translate(76.95 333.20) rotate(-45)" class="x">0.5 µM</text>
<path d="M96.25 324.80V327.40" class="ax"/>
<text transform="translate(97.45 333.20) rotate(-45)" class="x">1 µM</text>
<path d="M116.75 324.80V327.40" class="ax"/>
<text transform="translate(117.95 333.20) rotate(-45)" class="x">5 µM</text>
<text transform="translate(10.35 290.30) rotate(-90)" class="yl">Percentage of 100% Control</text>
</g>
<g>
<text x="197.1" y="248.8" class="t">cRGO4 72h</text>
<rect x="148.80" y="271.10" width="3.7" height="53.70" fill="#000"/>
<rect x="154.60" y="271.35" width="3.2" height="53.45" fill="#aaaaaa" stroke="#555" stroke-width="0.5"/>
<rect x="160.15" y="271.35" width="3.2" height="53.45" fill="#cacaca" stroke="#5c5c5c" stroke-width="0.5"/>
<path d="M171.15 303.86V303.32M170.25 303.32H172.05" class="e"/>
<rect x="169.30" y="303.86" width="3.7" height="20.94" fill="#000"/>
<text x="171.43" y="304.52" class="s">***</text>
<path d="M176.70 274.32V272.17M175.80 272.17H177.60" class="e"/>
<rect x="175.10" y="274.57" width="3.2" height="50.23" fill="#aaaaaa" stroke="#555" stroke-width="0.5"/>
<text x="176.98" y="273.37" class="s">*</text>
<path d="M182.25 295.26V290.43M181.35 290.43H183.15" class="e"/>
<rect x="180.65" y="295.51" width="3.2" height="29.29" fill="#cacaca" stroke="#5c5c5c" stroke-width="0.5"/>
<text x="182.53" y="291.63" class="s">***</text>
<path d="M191.65 318.89V318.36M190.75 318.36H192.55" class="e"/>
<rect x="189.80" y="318.89" width="3.7" height="5.91" fill="#000"/>
<text x="191.93" y="319.56" class="s">***</text>
<path d="M197.20 297.95V292.58M196.30 292.58H198.10" class="e"/>
<rect x="195.60" y="298.20" width="3.2" height="26.60" fill="#aaaaaa" stroke="#555" stroke-width="0.5"/>
<text x="197.48" y="293.78" class="s">***</text>
<path d="M202.75 316.21V314.60M201.85 314.60H203.65" class="e"/>
<rect x="201.15" y="316.46" width="3.2" height="8.34" fill="#cacaca" stroke="#5c5c5c" stroke-width="0.5"/>
<text x="203.03" y="315.80" class="s">***</text>
<path d="M212.15 321.04V319.97M211.25 319.97H213.05" class="e"/>
<rect x="210.30" y="321.04" width="3.7" height="3.76" fill="#000"/>
<text x="212.43" y="321.17" class="s">***</text>
<path d="M217.70 304.93V300.10M216.80 300.10H218.60" class="e"/>
<rect x="216.10" y="305.18" width="3.2" height="19.62" fill="#aaaaaa" stroke="#555" stroke-width="0.5"/>
<text x="217.98" y="301.30" class="s">***</text>
<path d="M223.25 317.82V315.13M222.35 315.13H224.15" class="e"/>
<rect x="221.65" y="318.07" width="3.2" height="6.73" fill="#cacaca" stroke="#5c5c5c" stroke-width="0.5"/>
<text x="223.53" y="316.33" class="s">***</text>
<path d="M232.65 322.12V321.04M231.75 321.04H233.55" class="e"/>
<rect x="230.80" y="322.12" width="3.7" height="2.69" fill="#000"/>
<text x="232.93" y="322.24" class="s">***</text>
<path d="M238.20 301.17V300.10M237.30 300.10H239.10" class="e"/>
<rect x="236.60" y="301.42" width="3.2" height="23.38" fill="#aaaaaa" stroke="#555" stroke-width="0.5"/>
<text x="238.48" y="301.30" class="s">***</text>
<path d="M243.75 316.21V314.60M242.85 314.60H244.65" class="e"/>
<rect x="242.15" y="316.46" width="3.2" height="8.34" fill="#cacaca" stroke="#5c5c5c" stroke-width="0.5"/>
<text x="244.03" y="315.80" class="s">***</text>
<path d="M146.60 257.68V325.15" class="a"/>
<path d="M146.15 324.80H248.30" class="ax"/>
<path d="M145.30 311.38H146.60" class="m"/>
<path d="M145.30 284.52H146.60" class="m"/>
<path d="M144.00 324.80H146.60" class="ax"/>
<text x="143.30" y="326.55" class="y">0</text>
<path d="M144.00 297.95H146.60" class="ax"/>
<text x="143.30" y="299.70" class="y">50</text>
<path d="M144.00 271.10H146.60" class="ax"/>
<text x="143.30" y="272.85" class="y">100</text>
<path d="M145.30 257.68H146.60" class="m"/>
<path d="M156.20 324.80V327.40" class="ax"/>
<text transform="translate(157.40 333.20) rotate(-45)" class="x">Control</text>
<path d="M176.70 324.80V327.40" class="ax"/>
<text transform="translate(177.90 333.20) rotate(-45)" class="x">0.1 µM</text>
<path d="M197.20 324.80V327.40" class="ax"/>
<text transform="translate(198.40 333.20) rotate(-45)" class="x">0.5 µM</text>
<path d="M217.70 324.80V327.40" class="ax"/>
<text transform="translate(218.90 333.20) rotate(-45)" class="x">1 µM</text>
<path d="M238.20 324.80V327.40" class="ax"/>
<text transform="translate(239.40 333.20) rotate(-45)" class="x">5 µM</text>
</g>
<g>
<text x="315.0" y="248.8" class="t">cRGO6 48h</text>
<rect x="266.70" y="271.10" width="3.7" height="53.70" fill="#000"/>
<rect x="272.50" y="271.35" width="3.2" height="53.45" fill="#aaaaaa" stroke="#555" stroke-width="0.5"/>
<rect x="278.05" y="271.35" width="3.2" height="53.45" fill="#cacaca" stroke="#5c5c5c" stroke-width="0.5"/>
<path d="M289.05 280.77V275.93M288.15 275.93H289.95" class="e"/>
<rect x="287.20" y="280.77" width="3.7" height="44.03" fill="#000"/>
<text x="289.33" y="277.13" class="s">***</text>
<path d="M294.60 266.27V259.82M293.70 259.82H295.50" class="e"/>
<rect x="293.00" y="266.52" width="3.2" height="58.28" fill="#aaaaaa" stroke="#555" stroke-width="0.5"/>
<path d="M300.15 286.14V272.71M299.25 272.71H301.05" class="e"/>
<rect x="298.55" y="286.39" width="3.2" height="38.41" fill="#cacaca" stroke="#5c5c5c" stroke-width="0.5"/>
<path d="M309.55 303.86V301.71M308.65 301.71H310.45" class="e"/>
<rect x="307.70" y="303.86" width="3.7" height="20.94" fill="#000"/>
<text x="309.83" y="302.91" class="s">***</text>
<path d="M315.10 293.65V290.97M314.20 290.97H316.00" class="e"/>
<rect x="313.50" y="293.90" width="3.2" height="30.90" fill="#aaaaaa" stroke="#555" stroke-width="0.5"/>
<text x="315.38" y="292.17" class="s">**</text>
<path d="M320.65 306.00V300.10M319.75 300.10H321.55" class="e"/>
<rect x="319.05" y="306.25" width="3.2" height="18.55" fill="#cacaca" stroke="#5c5c5c" stroke-width="0.5"/>
<text x="320.93" y="301.30" class="s">***</text>
<path d="M330.05 315.13V314.06M329.15 314.06H330.95" class="e"/>
<rect x="328.20" y="315.13" width="3.7" height="9.67" fill="#000"/>
<text x="330.33" y="315.26" class="s">***</text>
<path d="M335.60 294.73V289.36M334.70 289.36H336.50" class="e"/>
<rect x="334.00" y="294.98" width="3.2" height="29.82" fill="#aaaaaa" stroke="#555" stroke-width="0.5"/>
<text x="335.88" y="290.56" class="s">***</text>
<path d="M341.15 309.76V300.63M340.25 300.63H342.05" class="e"/>
<rect x="339.55" y="310.01" width="3.2" height="14.79" fill="#cacaca" stroke="#5c5c5c" stroke-width="0.5"/>
<text x="341.43" y="301.83" class="s">***</text>
<path d="M350.55 319.97V318.89M349.65 318.89H351.45" class="e"/>
<rect x="348.70" y="319.97" width="3.7" height="4.83" fill="#000"/>
<text x="350.83" y="320.09" class="s">***</text>
<path d="M356.10 298.49V296.34M355.20 296.34H357.00" class="e"/>
<rect x="354.50" y="298.74" width="3.2" height="26.06" fill="#aaaaaa" stroke="#555" stroke-width="0.5"/>
<text x="356.38" y="297.54" class="s">***</text>
<path d="M361.65 308.69V302.25M360.75 302.25H362.55" class="e"/>
<rect x="360.05" y="308.94" width="3.2" height="15.86" fill="#cacaca" stroke="#5c5c5c" stroke-width="0.5"/>
<text x="361.93" y="303.45" class="s">***</text>
<path d="M264.50 257.68V325.15" class="a"/>
<path d="M264.05 324.80H366.20" class="ax"/>
<path d="M263.20 311.38H264.50" class="m"/>
<path d="M263.20 284.52H264.50" class="m"/>
<path d="M261.90 324.80H264.50" class="ax"/>
<text x="261.20" y="326.55" class="y">0</text>
<path d="M261.90 297.95H264.50" class="ax"/>
<text x="261.20" y="299.70" class="y">50</text>
<path d="M261.90 271.10H264.50" class="ax"/>
<text x="261.20" y="272.85" class="y">100</text>
<path d="M263.20 257.68H264.50" class="m"/>
<path d="M274.10 324.80V327.40" class="ax"/>
<text transform="translate(275.30 333.20) rotate(-45)" class="x">Control</text>
<path d="M294.60 324.80V327.40" class="ax"/>
<text transform="translate(295.80 333.20) rotate(-45)" class="x">0.1 µM</text>
<path d="M315.10 324.80V327.40" class="ax"/>
<text transform="translate(316.30 333.20) rotate(-45)" class="x">0.5 µM</text>
<path d="M335.60 324.80V327.40" class="ax"/>
<text transform="translate(336.80 333.20) rotate(-45)" class="x">1 µM</text>
<path d="M356.10 324.80V327.40" class="ax"/>
<text transform="translate(357.30 333.20) rotate(-45)" class="x">5 µM</text>
</g>
<g>
<text x="437.8" y="248.6" class="t">cRGO6 72h</text>
<rect x="389.50" y="280.00" width="3.7" height="44.60" fill="#000"/>
<rect x="395.30" y="280.25" width="3.2" height="44.35" fill="#aaaaaa" stroke="#555" stroke-width="0.5"/>
<rect x="400.85" y="280.25" width="3.2" height="44.35" fill="#cacaca" stroke="#5c5c5c" stroke-width="0.5"/>
<path d="M411.85 304.08V301.41M410.95 301.41H412.75" class="e"/>
<rect x="410.00" y="304.08" width="3.7" height="20.52" fill="#000"/>
<text x="412.13" y="302.61" class="s">***</text>
<path d="M417.40 288.03V283.12M416.50 283.12H418.30" class="e"/>
<rect x="415.80" y="288.28" width="3.2" height="36.32" fill="#aaaaaa" stroke="#555" stroke-width="0.5"/>
<text x="417.68" y="284.32" class="s">*</text>
<path d="M422.95 302.30V301.85M422.05 301.85H423.85" class="e"/>
<rect x="421.35" y="302.55" width="3.2" height="22.05" fill="#cacaca" stroke="#5c5c5c" stroke-width="0.5"/>
<text x="423.23" y="303.05" class="s">***</text>
<path d="M432.35 314.79V311.22M431.45 311.22H433.25" class="e"/>
<rect x="430.50" y="314.79" width="3.7" height="9.81" fill="#000"/>
<text x="432.63" y="312.42" class="s">***</text>
<path d="M437.90 308.99V303.64M437.00 303.64H438.80" class="e"/>
<rect x="436.30" y="309.24" width="3.2" height="15.36" fill="#aaaaaa" stroke="#555" stroke-width="0.5"/>
<text x="438.18" y="304.84" class="s">***</text>
<path d="M443.45 316.57V315.68M442.55 315.68H444.35" class="e"/>
<rect x="441.85" y="316.82" width="3.2" height="7.78" fill="#cacaca" stroke="#5c5c5c" stroke-width="0.5"/>
<text x="443.73" y="316.88" class="s">***</text>
<path d="M452.85 320.14V319.25M451.95 319.25H453.75" class="e"/>
<rect x="451.00" y="320.14" width="3.7" height="4.46" fill="#000"/>
<text x="453.13" y="320.45" class="s">***</text>
<path d="M458.40 312.11V308.10M457.50 308.10H459.30" class="e"/>
<rect x="456.80" y="312.36" width="3.2" height="12.24" fill="#aaaaaa" stroke="#555" stroke-width="0.5"/>
<text x="458.68" y="309.30" class="s">***</text>
<path d="M463.95 318.36V317.46M463.05 317.46H464.85" class="e"/>
<rect x="462.35" y="318.61" width="3.2" height="5.99" fill="#cacaca" stroke="#5c5c5c" stroke-width="0.5"/>
<text x="464.23" y="318.66" class="s">***</text>
<path d="M473.35 321.48V319.25M472.45 319.25H474.25" class="e"/>
<rect x="471.50" y="321.48" width="3.7" height="3.12" fill="#000"/>
<text x="473.63" y="320.45" class="s">***</text>
<path d="M478.90 317.02V313.45M478.00 313.45H479.80" class="e"/>
<rect x="477.30" y="317.27" width="3.2" height="7.33" fill="#aaaaaa" stroke="#555" stroke-width="0.5"/>
<text x="479.18" y="314.65" class="s">***</text>
<path d="M484.45 317.02V314.79M483.55 314.79H485.35" class="e"/>
<rect x="482.85" y="317.27" width="3.2" height="7.33" fill="#cacaca" stroke="#5c5c5c" stroke-width="0.5"/>
<text x="484.73" y="315.99" class="s">***</text>
<path d="M387.30 257.70V324.95" class="a"/>
<path d="M386.85 324.60H489.00" class="ax"/>
<path d="M386.00 313.45H387.30" class="m"/>
<path d="M386.00 291.15H387.30" class="m"/>
<path d="M386.00 268.85H387.30" class="m"/>
<path d="M384.70 324.60H387.30" class="ax"/>
<text x="384.00" y="326.35" class="y">0</text>
<path d="M384.70 302.30H387.30" class="ax"/>
<text x="384.00" y="304.05" class="y">50</text>
<path d="M384.70 280.00H387.30" class="ax"/>
<text x="384.00" y="281.75" class="y">100</text>
<path d="M384.70 257.70H387.30" class="ax"/>
<text x="384.00" y="259.45" class="y">150</text>
<path d="M396.90 324.60V327.20" class="ax"/>
<text transform="translate(398.10 333.00) rotate(-45)" class="x">Control</text>
<path d="M417.40 324.60V327.20" class="ax"/>
<text transform="translate(418.60 333.00) rotate(-45)" class="x">0.1 µM</text>
<path d="M437.90 324.60V327.20" class="ax"/>
<text transform="translate(439.10 333.00) rotate(-45)" class="x">0.5 µM</text>
<path d="M458.40 324.60V327.20" class="ax"/>
<text transform="translate(459.60 333.00) rotate(-45)" class="x">1 µM</text>
<path d="M478.90 324.60V327.20" class="ax"/>
<text transform="translate(480.10 333.00) rotate(-45)" class="x">5 µM</text>
</g>

<g>
<rect x="489.5" y="156.5" width="7.1" height="3.3" fill="#000"/>
<rect x="489.75" y="171.65" width="6.6" height="2.8" fill="#aaaaaa" stroke="#555" stroke-width="0.5"/>
<rect x="489.75" y="186.15" width="6.6" height="2.8" fill="#cacaca" stroke="#5c5c5c" stroke-width="0.5"/>
<text x="501" y="156.5" class="l">Proliferation</text>
<text x="501" y="162.9" class="l">Cell counting</text>
<text x="501" y="171.7" class="l">Metabolic activity</text>
<text x="501" y="177.9" class="l">WST-1</text>
<text x="501" y="185.9" class="l">Biomass</text>
<text x="501" y="192.1" class="l">Crystal violet</text>
</g>

<text x="257.9" y="358.8" class="xl">LY3009120 Concentration</text>
</svg>
</body></html>
